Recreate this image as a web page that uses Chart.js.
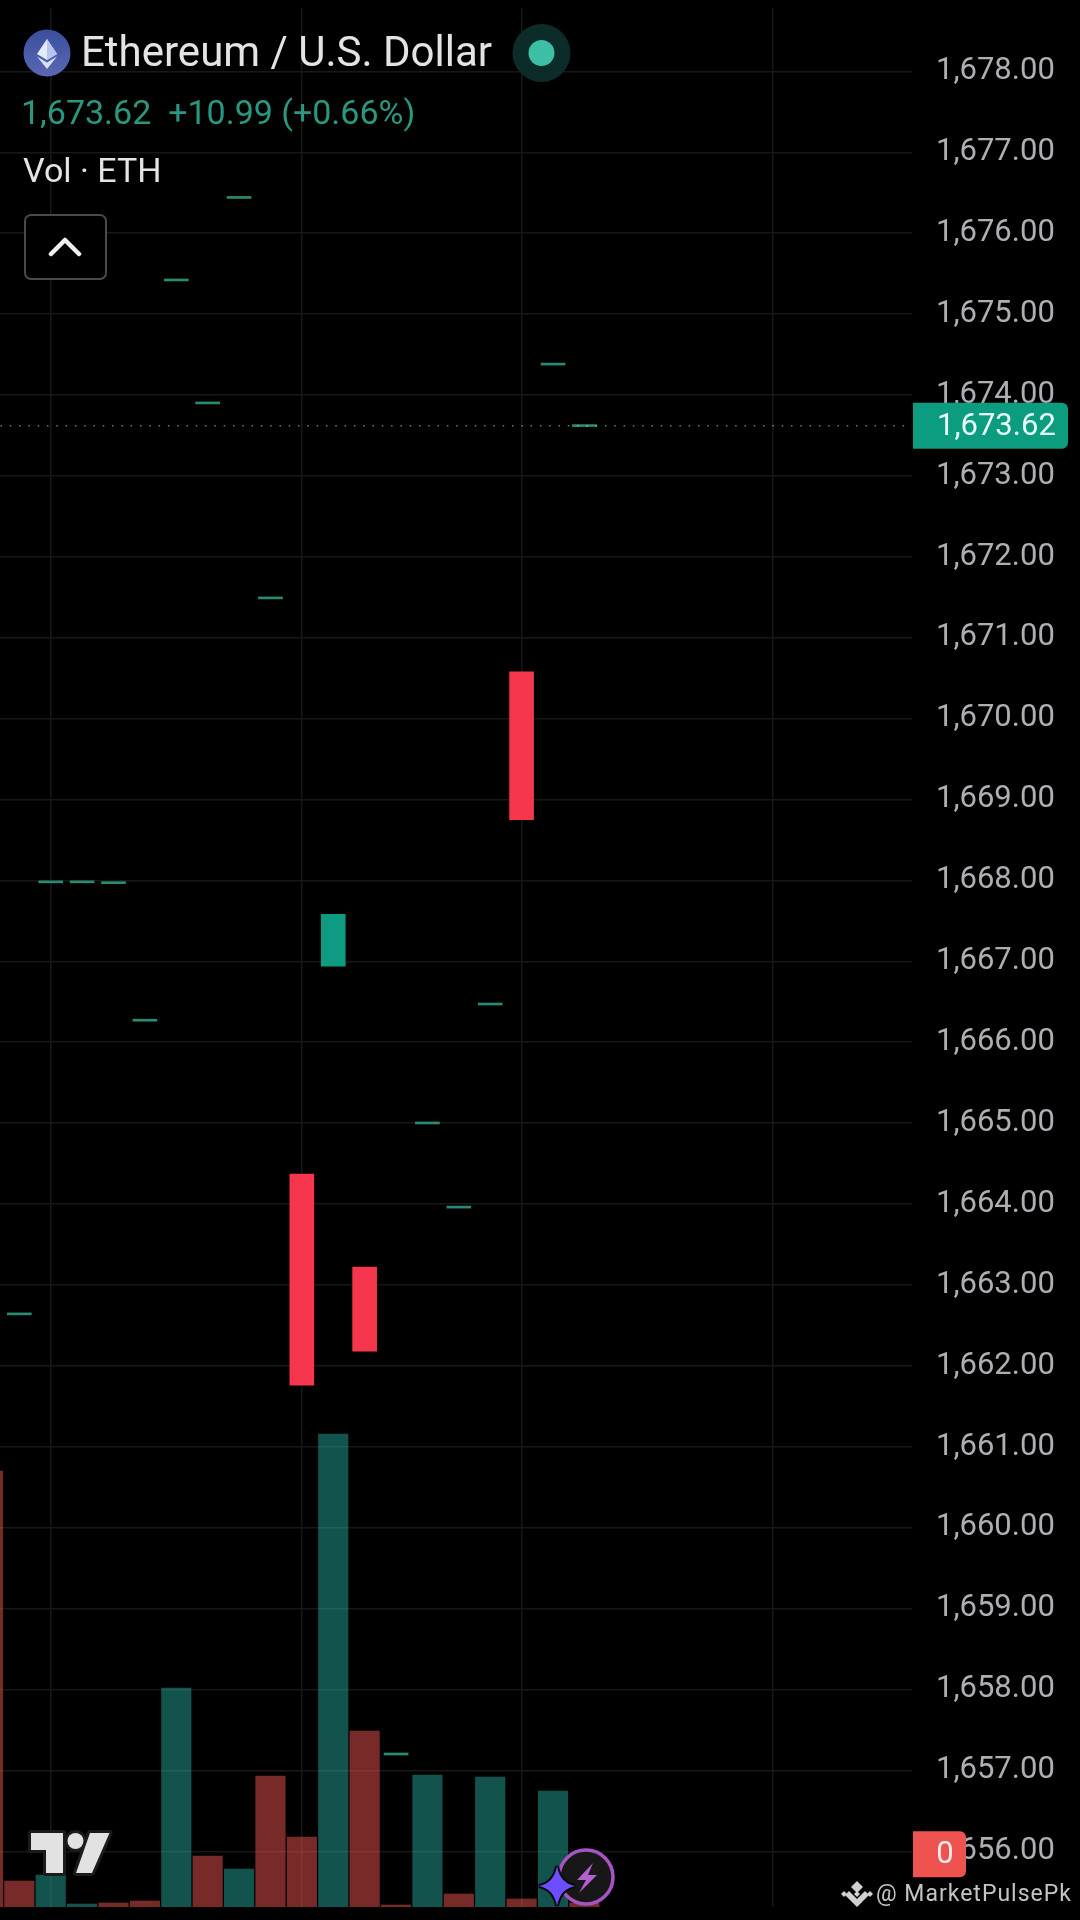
<!DOCTYPE html>
<html>
<head>
<meta charset="utf-8">
<title>Ethereum / U.S. Dollar</title>
<script src="https://cdn.jsdelivr.net/npm/chart.js@4"></script>
<style>
html,body{margin:0;padding:0;background:#000;}
#wrap{position:relative;width:1080px;height:1920px;overflow:hidden;background:#000;font-family:Roboto,sans-serif;}
canvas{position:absolute;left:0;top:0;}
.t{position:absolute;white-space:pre;line-height:1;}
svg{position:absolute;overflow:visible;}
</style>
</head>
<body>
<div id="wrap">
<canvas id="c" width="1080" height="1920"></canvas>
<svg style="left:0;top:0" width="1080" height="1920" viewBox="0 0 1080 1920">
  <defs><linearGradient id="ethg" x1="0" y1="0" x2="0" y2="1"><stop offset="0" stop-color="#3a4f9c"/><stop offset="1" stop-color="#5a68b4"/></linearGradient></defs>
  <circle cx="47" cy="53" r="23.5" fill="url(#ethg)"/>
  <path d="M47 39 L37 54 L47 60 L57 54 Z" fill="#e3ebfb"/>
  <path d="M47 39 L47 60 L57 54 Z" fill="#b7c6ee"/>
  <path d="M37 56.5 L47 69 L57 56.5 L47 62.5 Z" fill="#d6e0f8"/>
  <circle cx="541.5" cy="53" r="29" fill="#0c2c29"/>
  <circle cx="541.5" cy="53" r="13" fill="#3dbfa5"/>
  <rect x="25" y="215" width="81" height="64" rx="6" fill="#000" stroke="#4a4a4a" stroke-width="2"/>
  <path d="M51 254 L65 240 L79 254" fill="none" stroke="#f0f0f0" stroke-width="4.5" stroke-linecap="round" stroke-linejoin="round"/>
  <g stroke="#1b1b1b" stroke-width="6" stroke-linejoin="round" paint-order="stroke">
    <path d="M31 1833 H63 V1873 H46 V1850 H31 Z" fill="#e2e2e2"/>
    <circle cx="75.5" cy="1841" r="8" fill="#e2e2e2"/>
    <path d="M90 1833 H109.500 L92 1873 H76 Z" fill="#e2e2e2"/>
  </g>
  <circle cx="586" cy="1877" r="27" fill="#171717" stroke="#a653c4" stroke-width="3.500"/>
  <path d="M593 1863 L577 1880 H586 L579 1893 L597 1875 H588 Z" fill="#b45fd3"/>
  <path d="M557 1866 Q560 1883 575 1886 Q560 1889 557 1906 Q554 1889 539 1886 Q554 1883 557 1866 Z" fill="#6c4dff" stroke="#0a0a0a" stroke-width="4" paint-order="stroke"/>
  <g fill="#d0d0d0">
    <path d="M857 1881 L863 1887 L857 1893 L851 1887 Z"/>
    <path d="M857 1907 L845 1895 L849 1891 L857 1899 L865 1891 L869 1895 Z"/>
    <path d="M857 1891 L860 1894 L857 1897 L854 1894 Z"/>
    <path d="M844 1891 L847 1894 L844 1897 L841 1894 Z"/>
    <path d="M870 1891 L873 1894 L870 1897 L867 1894 Z"/>
  </g>
</svg>
<div class="t" style="left:81px;top:31px;font-size:42px;color:#e4e4e4;">Ethereum / U.S. Dollar</div>
<div class="t" style="left:21px;top:95px;font-size:34px;color:#2a9780;">1,673.62  +10.99 (+0.66%)</div>
<div class="t" style="left:23px;top:153px;font-size:34px;color:#e4e4e4;">Vol · ETH</div>
<div class="t" style="left:876px;top:1882px;font-size:23px;letter-spacing:1px;color:#c4c4c4;">@ MarketPulsePk</div>
</div>
<script>
// Candle slots on the time axis (bar index)
const slots      = [1,2,3,4,5,6,7,8,9,10,11,12,13,14,15,16,17,18,19];
const opens      = [1662.63,1667.97,1667.97,1667.96,1666.26,1675.41,1673.89,1676.43,1671.48,1664.37,1666.94,1663.22,1657.19,1664.99,1663.95,1666.46,1670.58,1674.37,1673.61];
const closes     = [1662.63,1667.97,1667.97,1667.96,1666.26,1675.41,1673.89,1676.43,1671.48,1661.76,1667.58,1662.18,1657.19,1664.99,1663.95,1666.46,1668.75,1674.37,1673.61];
// Volume bars
const volSlots   = [0,1,2,3,4,5,6,7,8,9,10,11,12,13,14,15,16,17,18,19];
const volumes    = [436,26,32,3,4,6,219,51,38,131,70,473,176,2,132,13,130,8,116,4];
const volUp      = [0,0,1,1,0,0,1,0,1,0,0,1,0,0,1,0,1,0,1,0];
// Axis
const priceTicks = [1656,1657,1658,1659,1660,1661,1662,1663,1664,1665,1666,1667,1668,1669,1670,1671,1672,1673,1674,1675,1676,1677,1678];
const timeGrid   = [2,10,17,25];
const lastPrice  = 1673.62;
const lastLabel  = "1,673.62";
const volBadge   = "0";

const fmt = v => v.toLocaleString('en-US',{minimumFractionDigits:2,maximumFractionDigits:2});
const UP='#0d9c82', DOWN='#f5364c', DOJI='#2b8a74';

const overlay = {
  id:'badges',
  afterDraw(chart){
    const ctx=chart.ctx, y=chart.scales.y, left=chart.chartArea.right;
    const py=y.getPixelForValue(lastPrice);
    ctx.save();
    ctx.fillStyle='#0c9c80';
    ctx.beginPath(); ctx.roundRect(left+1,py-23,155,46,[0,6,6,0]); ctx.fill();
    ctx.fillStyle='#e9fff9'; ctx.font='31px Roboto'; ctx.textAlign='left'; ctx.textBaseline='middle';
    ctx.fillText(lastLabel,left+25,py+1);
    const vy=y.getPixelForValue(1656)+3;
    ctx.fillStyle='#ef5350';
    ctx.beginPath(); ctx.roundRect(left+1,vy-23,53,46,[0,6,6,0]); ctx.fill();
    ctx.fillStyle='#fdeeee'; ctx.textAlign='center';
    ctx.fillText(volBadge,left+33,vy+1);
    ctx.restore();
  }
};

new Chart(document.getElementById('c'),{
  type:'bar',
  data:{datasets:[
    {type:'line',order:0,xAxisID:'x',yAxisID:'y',
     data:[{x:0.4,y:lastPrice},{x:29.45,y:lastPrice}],
     borderColor:'rgba(190,225,212,0.55)',borderWidth:1.5,borderDash:[1.5,7.8],pointRadius:0},
    {order:1,xAxisID:'x',yAxisID:'y',grouped:false,barThickness:24,minBarLength:2,
     data:slots.map((s,i)=>({x:s,y:[opens[i],closes[i]]})),
     backgroundColor:slots.map((s,i)=>closes[i]===opens[i]?DOJI:(closes[i]>opens[i]?UP:DOWN))},
    {order:2,xAxisID:'x',yAxisID:'yVol',grouped:false,barThickness:29.5,
     data:volSlots.map((s,i)=>({x:s,y:volumes[i]})),
     backgroundColor:volUp.map(u=>u?'rgba(38,166,154,0.5)':'rgba(239,83,80,0.5)')}
  ]},
  options:{
    responsive:false,animation:false,devicePixelRatio:1,
    layout:{autoPadding:false,padding:{top:8,bottom:13,left:0,right:0}},
    plugins:{legend:{display:false},tooltip:{enabled:false}},
    scales:{
      x:{type:'linear',offset:false,min:0.385,max:29.435,
         afterBuildTicks(s){s.ticks=timeGrid.map(v=>({value:v}));},
         grid:{color:'#181818',lineWidth:1.5,drawTicks:false,offset:false},border:{display:false},
         ticks:{display:false}},
      y:{type:'linear',position:'right',min:1655.311,max:1678.784,
         afterBuildTicks(s){s.ticks=priceTicks.map(v=>({value:v}));},
         afterFit(s){s.width=168;s.paddingTop=0;s.paddingBottom=0;},
         grid:{color:'#181818',lineWidth:1.5,drawTicks:false},border:{display:false},
         ticks:{autoSkip:false,padding:24,color:'#adafb3',font:{family:'Roboto',size:31},labelOffset:0,callback:v=>fmt(v)}},
      yVol:{type:'linear',display:false,min:0,max:1899}
    }
  },
  plugins:[overlay]
});
</script>
</body>
</html>
